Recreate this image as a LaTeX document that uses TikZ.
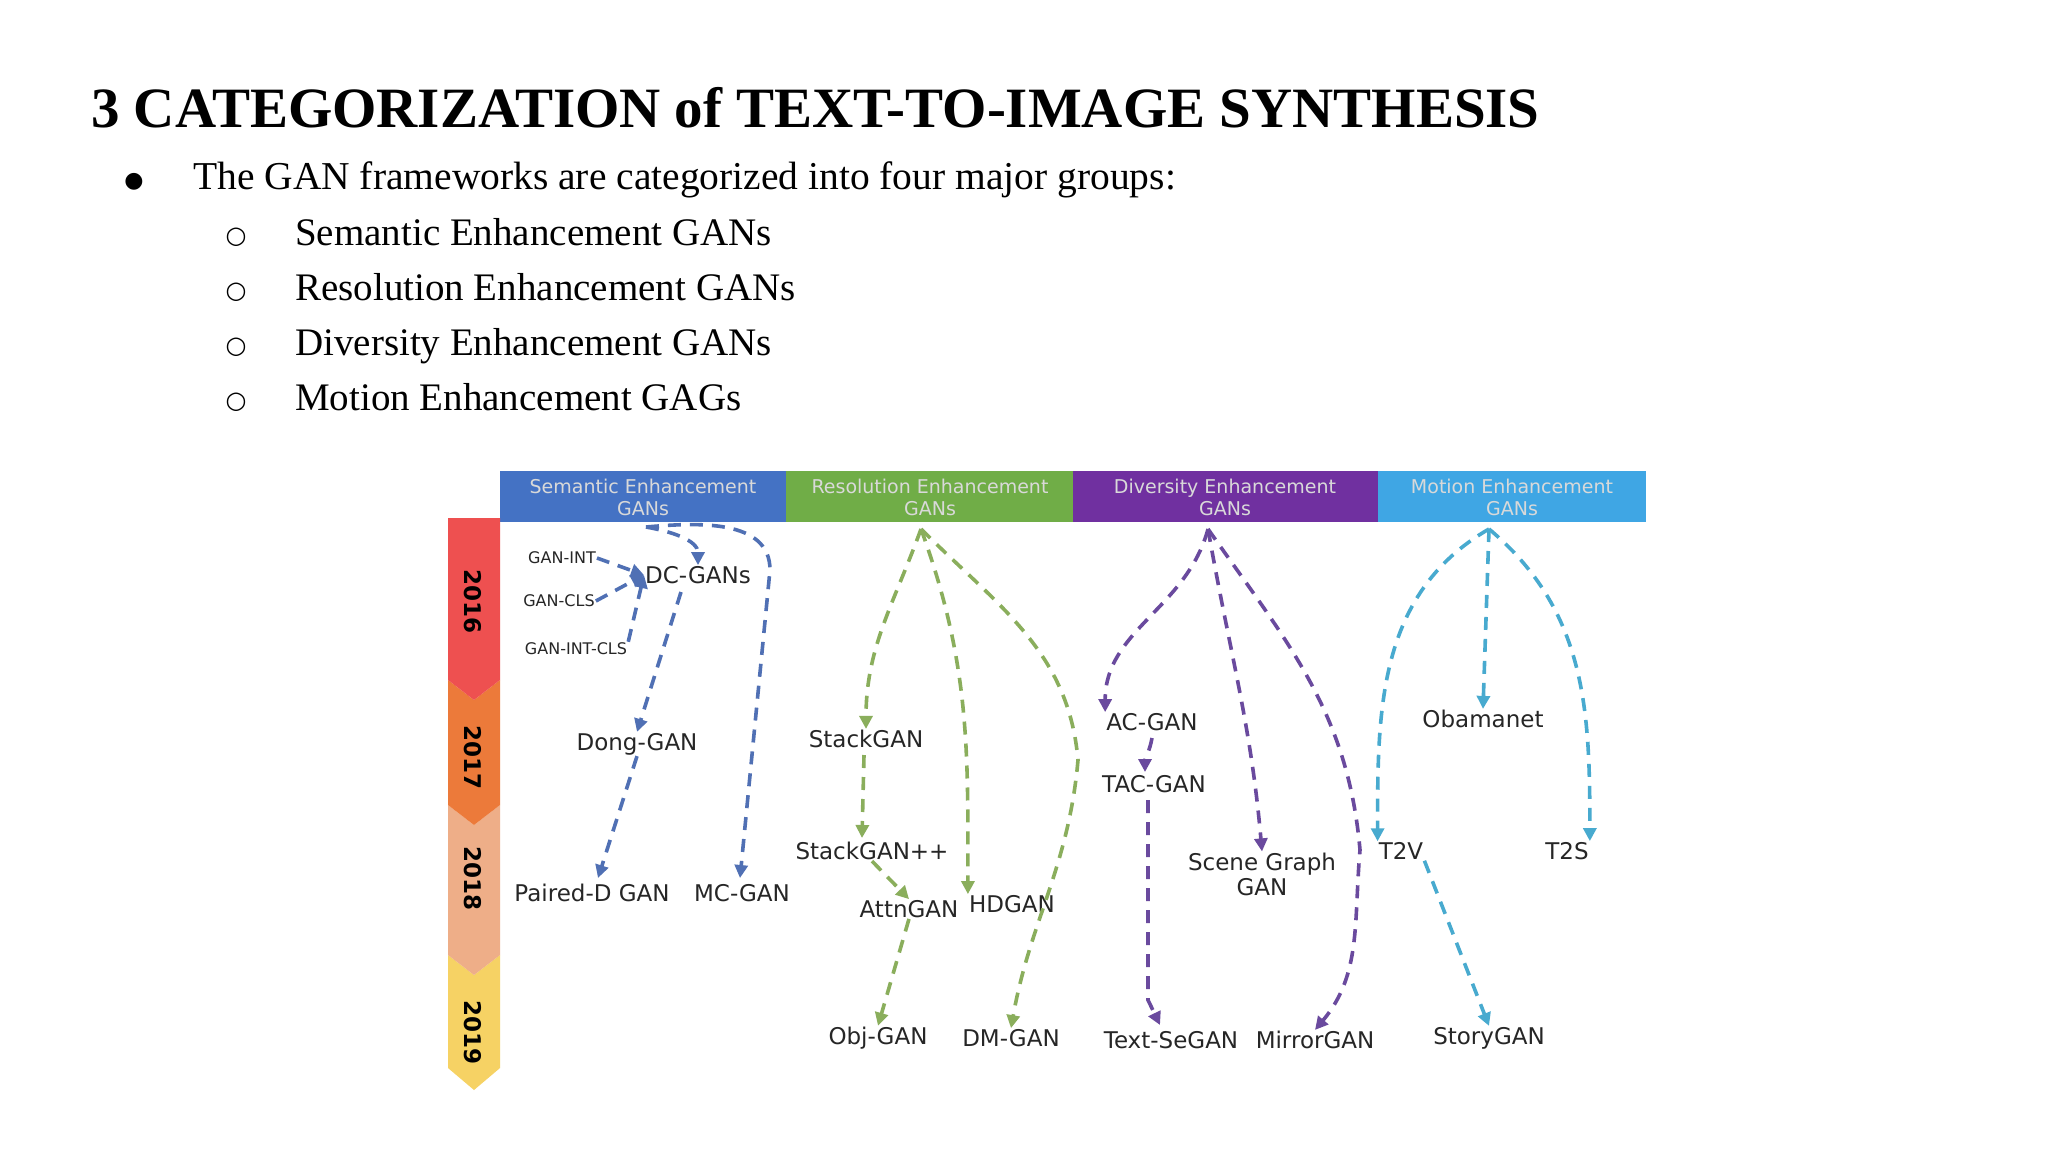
\documentclass[tikz,border=0pt]{standalone}
\usepackage{fontspec}
\setmainfont{Liberation Serif}
\newfontfamily\dfont{DejaVu Sans}
\usetikzlibrary{arrows.meta}
\definecolor{cblue}{HTML}{4472C4}
\definecolor{cgreen}{HTML}{70AD47}
\definecolor{cpurple}{HTML}{7030A0}
\definecolor{ccyan}{HTML}{3FA6E4}
\definecolor{eblue}{HTML}{5070B4}
\definecolor{egreen}{HTML}{8AAE5C}
\definecolor{epurple}{HTML}{6A4A9E}
\definecolor{ecyan}{HTML}{48AACF}
\definecolor{y16}{HTML}{EE5050}
\definecolor{y17}{HTML}{EC7A3A}
\definecolor{y18}{HTML}{EEAE88}
\definecolor{y19}{HTML}{F6D264}
\definecolor{txt}{HTML}{262626}
\tikzset{
 lbl/.style={font=\dfont\fontsize{23}{25}\selectfont, text=txt, inner sep=1pt, align=center},
 slbl/.style={font=\dfont\fontsize{16}{18}\selectfont, text=txt, inner sep=1pt},
 hdr/.style={font=\dfont\fontsize{19}{22}\selectfont, align=center, text=white!85!black},
 yr/.style={font=\dfont\bfseries\fontsize{23}{25}\selectfont, rotate=-90},
 ed/.style={dash pattern=on 13pt off 9pt, line width=3.6pt, -{Triangle[length=13pt,width=13pt]}},
 eb/.style={ed, eblue}, eg/.style={ed, egreen}, ep/.style={ed, epurple}, ec/.style={ed, ecyan},
}
\begin{document}
\begin{tikzpicture}[x=1pt,y=-1pt]
\useasboundingbox (0,0) rectangle (2048,1152);
\fill[white] (0,0) rectangle (2048,1152);
% text
\node[anchor=base west, inner sep=0pt, font=\bfseries\fontsize{57}{62}\selectfont] (title) at (91,127) {3 CATEGORIZATION of TEXT-TO-IMAGE SYNTHESIS};
\node[anchor=base, inner sep=0pt, font=\dfont\fontsize{22}{26}\selectfont] (b0) at (134,187) {●};
\node[anchor=base west, inner sep=0pt, font=\fontsize{39.5}{44}\selectfont] (t0) at (193,189) {The GAN frameworks are categorized into four major groups:};
\foreach \y/\t [count=\i] in {245/Semantic Enhancement GANs,300/Resolution Enhancement GANs,355/Diversity Enhancement GANs,410/Motion Enhancement GAGs}{
 \node[anchor=base, inner sep=0pt, font=\dfont\fontsize{24}{28}\selectfont] (c\i) at (236,\y-2) {○};
 \node[anchor=base west, inner sep=0pt, font=\fontsize{39}{44}\selectfont] (s\i) at (295,\y) {\t};
}
% headers
\fill[cblue] (500,471) rectangle (786,522);
\fill[cgreen] (786,471) rectangle (1073,522);
\fill[cpurple] (1073,471) rectangle (1378,522);
\fill[ccyan] (1378,471) rectangle (1646,522);
\node[hdr] (h1) at (643,497) {Semantic Enhancement\\GANs};
\node[hdr] (h2) at (930,497) {Resolution Enhancement\\GANs};
\node[hdr] (h3) at (1225,497) {Diversity Enhancement\\GANs};
\node[hdr] (h4) at (1512,497) {Motion Enhancement\\GANs};
% year bar
\fill[y19] (448,955) -- (474,975) -- (500,955) -- (500,1068) -- (474,1090) -- (448,1068) -- cycle;
\fill[y18] (448,805) -- (474,825) -- (500,805) -- (500,955) -- (474,975) -- (448,955) -- cycle;
\fill[y17] (448,680) -- (474,700) -- (500,680) -- (500,805) -- (474,825) -- (448,805) -- cycle;
\fill[y16] (448,518) -- (500,518) -- (500,680) -- (474,700) -- (448,680) -- cycle;
\node[yr] (y1) at (473,601) {2016};
\node[yr] (y2) at (473,757) {2017};
\node[yr] (y3) at (473,878) {2018};
\node[yr] (y4) at (473,1032) {2019};
% nodes
\node[slbl] (gi) at (562,558) {GAN-INT};
\node[slbl] (gc) at (559,601) {GAN-CLS};
\node[slbl] (gic) at (576,649) {GAN-INT-CLS};
\node[lbl] (dc) at (698,575) {DC-GANs};
\node[lbl] (dong) at (637,744) {Dong-GAN};
\node[lbl] (pd) at (592,893) {Paired-D GAN};
\node[lbl] (mc) at (742,893) {MC-GAN};
\node[lbl] (sg) at (866,739) {StackGAN};
\node[lbl] (sgp) at (872,851) {StackGAN++};
\node[lbl] (attn) at (909,909) {AttnGAN};
\node[lbl] (hd) at (1012,904) {HDGAN};
\node[lbl] (obj) at (878,1038) {Obj-GAN};
\node[lbl] (dm) at (1011,1038) {DM-GAN};
\node[lbl] (ac) at (1152,722) {AC-GAN};
\node[lbl] (tac) at (1154,784) {TAC-GAN};
\node[lbl] (scene) at (1262,874) {Scene Graph\\GAN};
\node[lbl] (tse) at (1171,1040) {Text-SeGAN};
\node[lbl] (mir) at (1315,1040) {MirrorGAN};
\node[lbl] (oba) at (1483,719) {Obamanet};
\node[lbl] (t2v) at (1401,851) {T2V};
\node[lbl] (t2s) at (1567,851) {T2S};
\node[lbl] (story) at (1489,1038) {StoryGAN};
% anchors
\coordinate (a1) at (646,527);
\coordinate (a2) at (921,529);
\coordinate (a3) at (1208,529);
\coordinate (a4) at (1489,529);
\coordinate (dcs) at (681,592);
\coordinate (sgs) at (864,755);
\coordinate (sgpn) at (862,838);
\coordinate (acs) at (1152,738);
\coordinate (tacn) at (1145,772);
\coordinate (tacs) at (1148,800);
\coordinate (tsen) at (1160,1025);
% semantic
\draw[eb] (a1) to[out=-10,in=90] (dc.north);
\draw[eb] (a1) to[out=5,in=90] (770,570) -- (740,878);
\draw[eb] (gi.east) -- (dc.west);
\draw[eb] (gc.east) -- (dc.west);
\draw[eb] (gic.north east) -- (dc.west);
\draw[eb] (dcs) -- (dong.north);
\draw[eb] (dong.south) -- (598,878);
% resolution
\draw[eg] (a2) to[out=-110,in=90] (sg.north);
\draw[eg] (a2) to[out=-70,in=90] (hd.north west);
\draw[eg] (a2) to[out=-45,in=95] (1078,760) to[out=-95,in=80] (dm.north);
\draw[eg] (sgs) -- (sgpn);
\draw[eg] (sgp.south) -- (attn.north);
\draw[eg] (attn.south) -- (obj.north);
% diversity
\draw[ep] (a3) to[out=-105,in=90] (ac.north west);
\draw[ep] (a3) to[out=-80,in=95] (scene.north);
\draw[ep] (a3) to[out=-55,in=95] (1360,850) to[out=-95,in=50] (mir.north);
\draw[ep] (acs) to[out=-100,in=90] (tacn);
\draw[ep] (tacs) -- (1148,1000) -- (tsen);
% motion
\draw[ec] (a4) to[out=-150,in=90] (t2v.north west);
\draw[ec] (a4) -- (oba.north);
\draw[ec] (a4) to[out=-40,in=90] (t2s.north east);
\draw[ec] (t2v.south east) -- (story.north);
\end{tikzpicture}
\end{document}
